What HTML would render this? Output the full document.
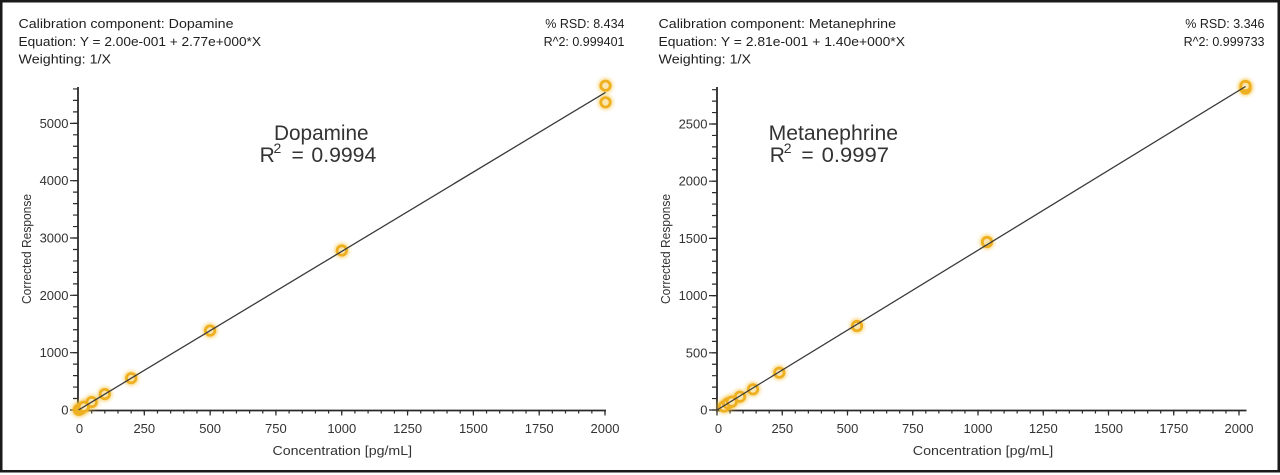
<!DOCTYPE html>
<html>
<head>
<meta charset="utf-8">
<style>
  html,body{margin:0;padding:0;background:#fff;}
  svg{display:block;}
  .hd{font-family:"Liberation Sans",Arial,sans-serif;font-size:12.5px;fill:#1e1e1e;}
  .tk{font-family:"Liberation Sans",Arial,sans-serif;font-size:13px;fill:#333;}
  .al{font-family:"Liberation Sans",Arial,sans-serif;font-size:13px;fill:#333;}
  .an{font-family:"Liberation Sans",Arial,sans-serif;font-size:21px;fill:#333;}
  .gl{fill:#F3BE30;opacity:.6;}
  .mk{fill:#FAE6AE;stroke:#EEB021;stroke-width:2.8;}
  .ax{stroke:#2a2a2a;stroke-width:1.8;fill:none;}
  .tm{stroke:#2a2a2a;fill:none;}
  .fit{stroke:#3a3a3a;stroke-width:1.3;}
</style>
</head>
<body>
<svg width="1280" height="475" viewBox="0 0 1280 475" xmlns="http://www.w3.org/2000/svg">
  <defs>
    <filter id="b" x="-50%" y="-50%" width="200%" height="200%"><feGaussianBlur stdDeviation="1.8"/></filter>
  </defs>
  <rect x="0" y="0" width="1280" height="475" fill="#fff"/>
  <rect x="1.25" y="1.25" width="1277.5" height="470" fill="#fff" stroke="#1a1a1a" stroke-width="2.5"/>

  <!-- ===== LEFT PANEL ===== -->
  <text class="hd" x="18.5" y="28" textLength="215" lengthAdjust="spacingAndGlyphs">Calibration component: Dopamine</text>
  <text class="hd" x="18.5" y="46" textLength="242.5" lengthAdjust="spacingAndGlyphs">Equation: Y = 2.00e-001 + 2.77e+000*X</text>
  <text class="hd" x="18.5" y="63.5" textLength="92.5" lengthAdjust="spacingAndGlyphs">Weighting: 1/X</text>
  <text class="hd" x="624.5" y="28" text-anchor="end">% RSD: 8.434</text>
  <text class="hd" x="624.5" y="46" text-anchor="end">R^2: 0.999401</text>

  <!-- axes -->
  <line class="ax" x1="78" y1="87" x2="78" y2="411"/>
  <line class="ax" x1="77" y1="410.5" x2="606" y2="410.5"/>
  <!-- x ticks -->
  <line class="tm" x1="77.9" y1="412" x2="606" y2="412" stroke-width="3" stroke-dasharray="1.2 11.9625"/>
  <line class="tm" x1="77.9" y1="413" x2="606" y2="413" stroke-width="5" stroke-dasharray="1.2 64.6125"/>
  <!-- y ticks -->
  <line class="tm" x1="75.5" y1="410.6" x2="75.5" y2="86" stroke-width="5" stroke-dasharray="1.2 10.2664"/>
  <line class="tm" x1="74" y1="410.6" x2="74" y2="86" stroke-width="8" stroke-dasharray="1.2 56.132"/>

  <!-- y labels -->
  <text class="tk" x="68.5" y="127.9" text-anchor="end">5000</text>
  <text class="tk" x="68.5" y="185.2" text-anchor="end">4000</text>
  <text class="tk" x="68.5" y="242.5" text-anchor="end">3000</text>
  <text class="tk" x="68.5" y="299.8" text-anchor="end">2000</text>
  <text class="tk" x="68.5" y="357.2" text-anchor="end">1000</text>
  <text class="tk" x="68.5" y="414.5" text-anchor="end">0</text>
  <!-- x labels -->
  <text class="tk" x="79.5" y="433" text-anchor="middle">0</text>
  <text class="tk" x="144.3" y="433" text-anchor="middle">250</text>
  <text class="tk" x="210.1" y="433" text-anchor="middle">500</text>
  <text class="tk" x="275.9" y="433" text-anchor="middle">750</text>
  <text class="tk" x="341.8" y="433" text-anchor="middle">1000</text>
  <text class="tk" x="407.6" y="433" text-anchor="middle">1250</text>
  <text class="tk" x="473.4" y="433" text-anchor="middle">1500</text>
  <text class="tk" x="539.2" y="433" text-anchor="middle">1750</text>
  <text class="tk" x="605" y="433" text-anchor="middle">2000</text>

  <text class="al" x="342.3" y="455" text-anchor="middle" textLength="139.5" lengthAdjust="spacingAndGlyphs">Concentration [pg/mL]</text>
  <text class="al" transform="translate(31,249) rotate(-90)" text-anchor="middle" textLength="110" lengthAdjust="spacingAndGlyphs">Corrected Response</text>

  <!-- annotation -->
  <text class="an" x="274" y="140" textLength="94.6" lengthAdjust="spacingAndGlyphs">Dopamine</text>
  <text class="an" x="259.6" y="162">R</text>
  <text class="an" x="273.5" y="153" style="font-size:14px">2</text>
  <text class="an" x="291.5" y="162">=</text>
  <text class="an" x="311.4" y="162" textLength="64.9" lengthAdjust="spacingAndGlyphs">0.9994</text>

  <!-- markers left -->
  <g filter="url(#b)">
    <circle class="gl" cx="78.8" cy="409.8" r="7.5"/>
    <circle class="gl" cx="81.1" cy="408.4" r="7.5"/>
    <circle class="gl" cx="83.8" cy="406.8" r="7.5"/>
    <circle class="gl" cx="91.7" cy="402.1" r="7.5"/>
    <circle class="gl" cx="104.8" cy="394.1" r="7.5"/>
    <circle class="gl" cx="131.2" cy="378.2" r="7.5"/>
    <circle class="gl" cx="210.1" cy="330.6" r="7.5"/>
    <circle class="gl" cx="341.8" cy="250.5" r="7.5"/>
    <circle class="gl" cx="605.5" cy="85.7" r="7.5"/>
    <circle class="gl" cx="605.5" cy="102.3" r="7.5"/>
  </g>
  <circle class="mk" cx="78.8" cy="409.8" r="4.7"/>
  <circle class="mk" cx="79.9" cy="409.2" r="4.7"/>
  <circle class="mk" cx="81.1" cy="408.4" r="4.7"/>
  <circle class="mk" cx="83.8" cy="406.8" r="4.7"/>
  <circle class="mk" cx="91.7" cy="402.1" r="4.7"/>
  <circle class="mk" cx="104.8" cy="394.1" r="4.7"/>
  <circle class="mk" cx="131.2" cy="378.2" r="4.7"/>
  <circle class="mk" cx="210.1" cy="330.6" r="4.7"/>
  <circle class="mk" cx="341.8" cy="250.5" r="4.7"/>
  <circle class="mk" cx="605.5" cy="85.7" r="4.7"/>
  <circle class="mk" cx="605.5" cy="102.3" r="4.7"/>
  <line class="fit" x1="78.5" y1="410" x2="605.5" y2="92.4"/>

  <!-- ===== RIGHT PANEL ===== -->
  <text class="hd" x="658.5" y="28" textLength="237.5" lengthAdjust="spacingAndGlyphs">Calibration component: Metanephrine</text>
  <text class="hd" x="658.5" y="46" textLength="246.5" lengthAdjust="spacingAndGlyphs">Equation: Y = 2.81e-001 + 1.40e+000*X</text>
  <text class="hd" x="658.5" y="63.5" textLength="92.5" lengthAdjust="spacingAndGlyphs">Weighting: 1/X</text>
  <text class="hd" x="1264.5" y="28" text-anchor="end">% RSD: 3.346</text>
  <text class="hd" x="1264.5" y="46" text-anchor="end">R^2: 0.999733</text>

  <line class="ax" x1="717" y1="87" x2="717" y2="411"/>
  <line class="ax" x1="716" y1="410.5" x2="1246.5" y2="410.5"/>
  <line class="tm" x1="716.4" y1="412" x2="1240" y2="412" stroke-width="3" stroke-dasharray="1.2 11.85"/>
  <line class="tm" x1="716.4" y1="413" x2="1240" y2="413" stroke-width="5" stroke-dasharray="1.2 64.05"/>
  <line class="tm" x1="714.5" y1="410.6" x2="714.5" y2="86" stroke-width="5" stroke-dasharray="1.2 10.24"/>
  <line class="tm" x1="713" y1="410.6" x2="713" y2="86" stroke-width="8" stroke-dasharray="1.2 56"/>

  <text class="tk" x="707.5" y="128.5" text-anchor="end">2500</text>
  <text class="tk" x="707.5" y="185.7" text-anchor="end">2000</text>
  <text class="tk" x="707.5" y="242.9" text-anchor="end">1500</text>
  <text class="tk" x="707.5" y="300.1" text-anchor="end">1000</text>
  <text class="tk" x="707.5" y="357.3" text-anchor="end">500</text>
  <text class="tk" x="707.5" y="414.5" text-anchor="end">0</text>

  <text class="tk" x="718.5" y="433" text-anchor="middle">0</text>
  <text class="tk" x="782.3" y="433" text-anchor="middle">250</text>
  <text class="tk" x="847.5" y="433" text-anchor="middle">500</text>
  <text class="tk" x="912.8" y="433" text-anchor="middle">750</text>
  <text class="tk" x="978" y="433" text-anchor="middle">1000</text>
  <text class="tk" x="1043.3" y="433" text-anchor="middle">1250</text>
  <text class="tk" x="1108.5" y="433" text-anchor="middle">1500</text>
  <text class="tk" x="1173.8" y="433" text-anchor="middle">1750</text>
  <text class="tk" x="1239" y="433" text-anchor="middle">2000</text>

  <text class="al" x="983" y="455" text-anchor="middle" textLength="140.5" lengthAdjust="spacingAndGlyphs">Concentration [pg/mL]</text>
  <text class="al" transform="translate(670,249) rotate(-90)" text-anchor="middle" textLength="110" lengthAdjust="spacingAndGlyphs">Corrected Response</text>

  <text class="an" x="768.6" y="140" textLength="129.4" lengthAdjust="spacingAndGlyphs">Metanephrine</text>
  <text class="an" x="769.8" y="162">R</text>
  <text class="an" x="783.7" y="153" style="font-size:14px">2</text>
  <text class="an" x="801.4" y="162">=</text>
  <text class="an" x="821.6" y="162" textLength="67.4" lengthAdjust="spacingAndGlyphs">0.9997</text>

  <g filter="url(#b)">
    <circle class="gl" cx="724" cy="406.5" r="7.5"/>
    <circle class="gl" cx="728" cy="403.3" r="7.5"/>
    <circle class="gl" cx="731.7" cy="401.7" r="7.5"/>
    <circle class="gl" cx="740" cy="396.7" r="7.5"/>
    <circle class="gl" cx="753" cy="389.3" r="7.5"/>
    <circle class="gl" cx="779.3" cy="372.7" r="7.5"/>
    <circle class="gl" cx="857" cy="326" r="7.5"/>
    <circle class="gl" cx="987" cy="242" r="7.5"/>
    <circle class="gl" cx="1245.5" cy="86" r="7.5"/>
    <circle class="gl" cx="1245.5" cy="88.5" r="7.5"/>
  </g>
  <circle class="mk" cx="724" cy="406.5" r="4.7"/>
  <circle class="mk" cx="728" cy="403.3" r="4.7"/>
  <circle class="mk" cx="731.7" cy="401.7" r="4.7"/>
  <circle class="mk" cx="740" cy="396.7" r="4.7"/>
  <circle class="mk" cx="753" cy="389.3" r="4.7"/>
  <circle class="mk" cx="779.3" cy="372.7" r="4.7"/>
  <circle class="mk" cx="857" cy="326" r="4.7"/>
  <circle class="mk" cx="987" cy="242" r="4.7"/>
  <circle class="mk" cx="1245.5" cy="88.5" r="4.7"/>
  <circle class="mk" cx="1245.5" cy="86" r="4.7"/>
  <line class="fit" x1="717" y1="410" x2="1245.5" y2="86.5"/>
</svg>
</body>
</html>
